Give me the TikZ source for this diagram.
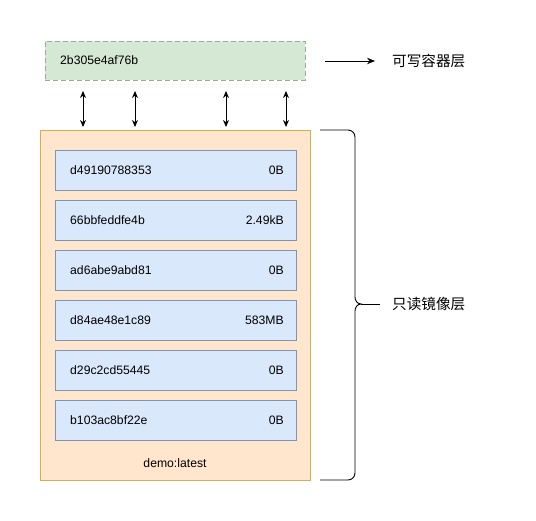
\documentclass[tikz,border=0pt]{standalone}
\usepackage{fontspec}
\setmainfont{Liberation Sans}
\newfontfamily\cjk{Noto Sans CJK SC}
\usetikzlibrary{arrows.meta}

\definecolor{wfill}{HTML}{D5E8D4}
\definecolor{wline}{HTML}{9AAB97}
\definecolor{ofill}{HTML}{FFE6CC}
\definecolor{oline}{HTML}{D6AE4E}
\definecolor{bfill}{HTML}{DAE8FC}
\definecolor{bline}{HTML}{7F93B2}

\tikzstyle{wlayer} = [rectangle, draw=wline, fill=wfill, dash pattern=on 5pt off 3pt,
    minimum width=260pt, minimum height=39pt, inner sep=0pt]
\tikzstyle{image} = [rectangle, draw=oline, fill=ofill,
    minimum width=270pt, minimum height=350pt, inner sep=0pt]
\tikzstyle{rlayer} = [rectangle, draw=bline, fill=bfill,
    minimum width=241pt, minimum height=40pt, inner sep=0pt]
\tikzstyle{lname} = [anchor=west, inner sep=0pt, font=\fontsize{12.2}{14}\selectfont]
\tikzstyle{lsize} = [anchor=east, inner sep=0pt, font=\fontsize{12.2}{14}\selectfont]
\tikzstyle{sidelabel} = [anchor=west, inner sep=0pt, font=\cjk\fontsize{14.6}{16}\selectfont]
\tikzstyle{rw} = [{Stealth[length=7pt,width=6pt]}-{Stealth[length=7pt,width=6pt]}, line width=1pt]

\begin{document}
\begin{tikzpicture}[x=1pt, y=-1pt]
	\useasboundingbox (0,0) rectangle (536,521);
	% container layer
	\node [wlayer] (wr) at (175,60.5) {};
	\node [lname] (wrn) at (60,60.5) {2b305e4af76b};
	%
	\node [image] (img) at (175,305) {};
	\node [lname, anchor=center] (imgn) at (175,463) {demo:latest};
	%
	\node [rlayer] (la) at (175.5,170) {};
	\node [lname] (lan) at (70,170) {d49190788353};
	\node [lsize] (las) at (284,170) {0B};
	%
	\node [rlayer] (lb) at (175.5,220) {};
	\node [lname] (lbn) at (70,220) {66bbfeddfe4b};
	\node [lsize] (lbs) at (284,220) {2.49kB};
	%
	\node [rlayer] (lc) at (175.5,270) {};
	\node [lname] (lcn) at (70,270) {ad6abe9abd81};
	\node [lsize] (lcs) at (284,270) {0B};
	%
	\node [rlayer] (ld) at (175.5,320) {};
	\node [lname] (ldn) at (70,320) {d84ae48e1c89};
	\node [lsize] (lds) at (284,320) {583MB};
	%
	\node [rlayer] (le) at (175.5,370) {};
	\node [lname] (len) at (70,370) {d29c2cd55445};
	\node [lsize] (les) at (284,370) {0B};
	%
	\node [rlayer] (lf) at (175.5,420) {};
	\node [lname] (lfn) at (70,420) {b103ac8bf22e};
	\node [lsize] (lfs) at (284,420) {0B};
	% read / write arrows
	\foreach \x [count=\i] in {83,135,226,286} {
		\coordinate (ua\i) at (\x,91);
		\coordinate (da\i) at (\x,127);
		\draw [rw] (ua\i) -- (da\i);
	}
	% labels on the right
	\coordinate (wa) at (325,61);
	\coordinate (wb) at (375,61);
	\node [sidelabel] (wcap) at (392,61) {可写容器层};
	\draw [-{Stealth[length=8pt,width=6.5pt]}, line width=0.9pt] (wa) -- (wb);
	%
	\coordinate (ba) at (320,130);
	\coordinate (bb) at (320,480);
	\coordinate (bm) at (361,304);
	\coordinate (bt) at (380,304);
	\node [sidelabel] (rcap) at (392,304) {只读镜像层};
	\draw [line width=0.9pt] (ba) -- (348,130) to[out=0,in=90] (355,137) -- (355,297)
		to[out=-90,in=180] (bm) to[out=180,in=90] (355,311) -- (355,473)
		to[out=-90,in=0] (348,480) -- (bb);
	\draw [line width=0.9pt] (bm) -- (bt);
\end{tikzpicture}
\end{document}
